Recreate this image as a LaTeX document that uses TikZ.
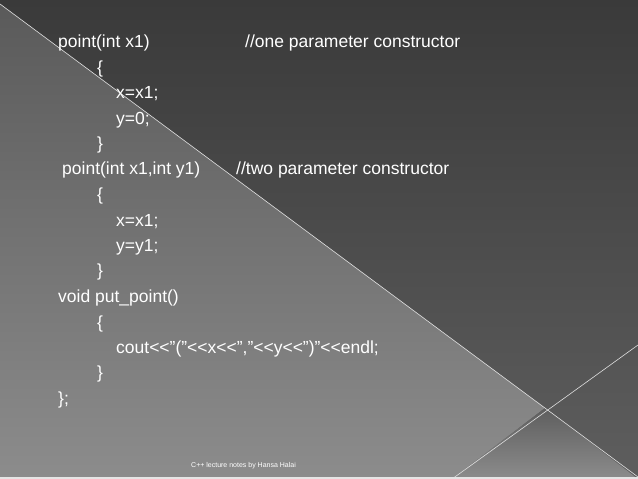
\documentclass[tikz,border=0pt]{standalone}
\usepackage{fontspec}
\setmainfont[Ligatures=NoCommon]{Liberation Sans}
\definecolor{darktop}{HTML}{3A3A3A}
\definecolor{darkbot}{HTML}{5E5E5E}
\definecolor{lighttop}{HTML}{5A5A5A}
\definecolor{lightbot}{HTML}{8C8C8C}
\tikzset{code/.style={anchor=base west, text=white, inner sep=0pt, font=\fontsize{17.5}{19}\selectfont},
         edge/.style={draw=white!75!gray, line width=0.6pt}}
\newcommand{\lt}{<{}<}
\newcommand{\qt}{\symbol{34}}
\begin{document}
\begin{tikzpicture}[x=1pt,y=-1pt]
\useasboundingbox (0,0) rectangle (638,479);
% Hintergrund
\shade[top color=darktop, bottom color=darkbot] (0,0) rectangle (638,479);
\shade[top color=lighttop, bottom color=lightbot] (0,4) -- (545,408) -- (452,479) -- (0,479) -- cycle;
\shade[top color=darkbot, bottom color=lightbot] (545,408) -- (638,479) -- (452,479) -- cycle;
\draw[edge] (0,4) -- (638,477);
\draw[edge] (452,479) -- (638,345);
\fill[white!80!gray] (0,477) rectangle (638,479);
% Codezeilen
\node[code] (p1) at (58,47) {point(int x1)};
\node[code] (c1) at (245,47) {//one parameter constructor};
\node[code] (o1) at (97,73) {\{};
\node[code] (a1) at (116,98) {x=x1;};
\node[code] (b1) at (116,124) {y=0;};
\node[code] (e1) at (97,149) {\}};
\node[code] (p2) at (62,174) {point(int x1,int y1)};
\node[code] (c2) at (236,174) {//two parameter constructor};
\node[code] (o2) at (97,200) {\{};
\node[code] (a2) at (116,226) {x=x1;};
\node[code] (b2) at (116,251) {y=y1;};
\node[code] (e2) at (97,276) {\}};
\node[code] (p3) at (58,302) {void put\_point()};
\node[code] (o3) at (97,328) {\{};
\node[code] (a3) at (116,353) {cout\lt\qt(\qt\lt x\lt\qt,\qt\lt y\lt\qt)\qt\lt endl;};
\node[code] (e3) at (97,378) {\}};
\node[code] (e4) at (58,404) {\};};
\node[code, font=\fontsize{7}{8}\selectfont] (ft) at (191,467) {C++ lecture notes by Hansa Halai};
\end{tikzpicture}
\end{document}
